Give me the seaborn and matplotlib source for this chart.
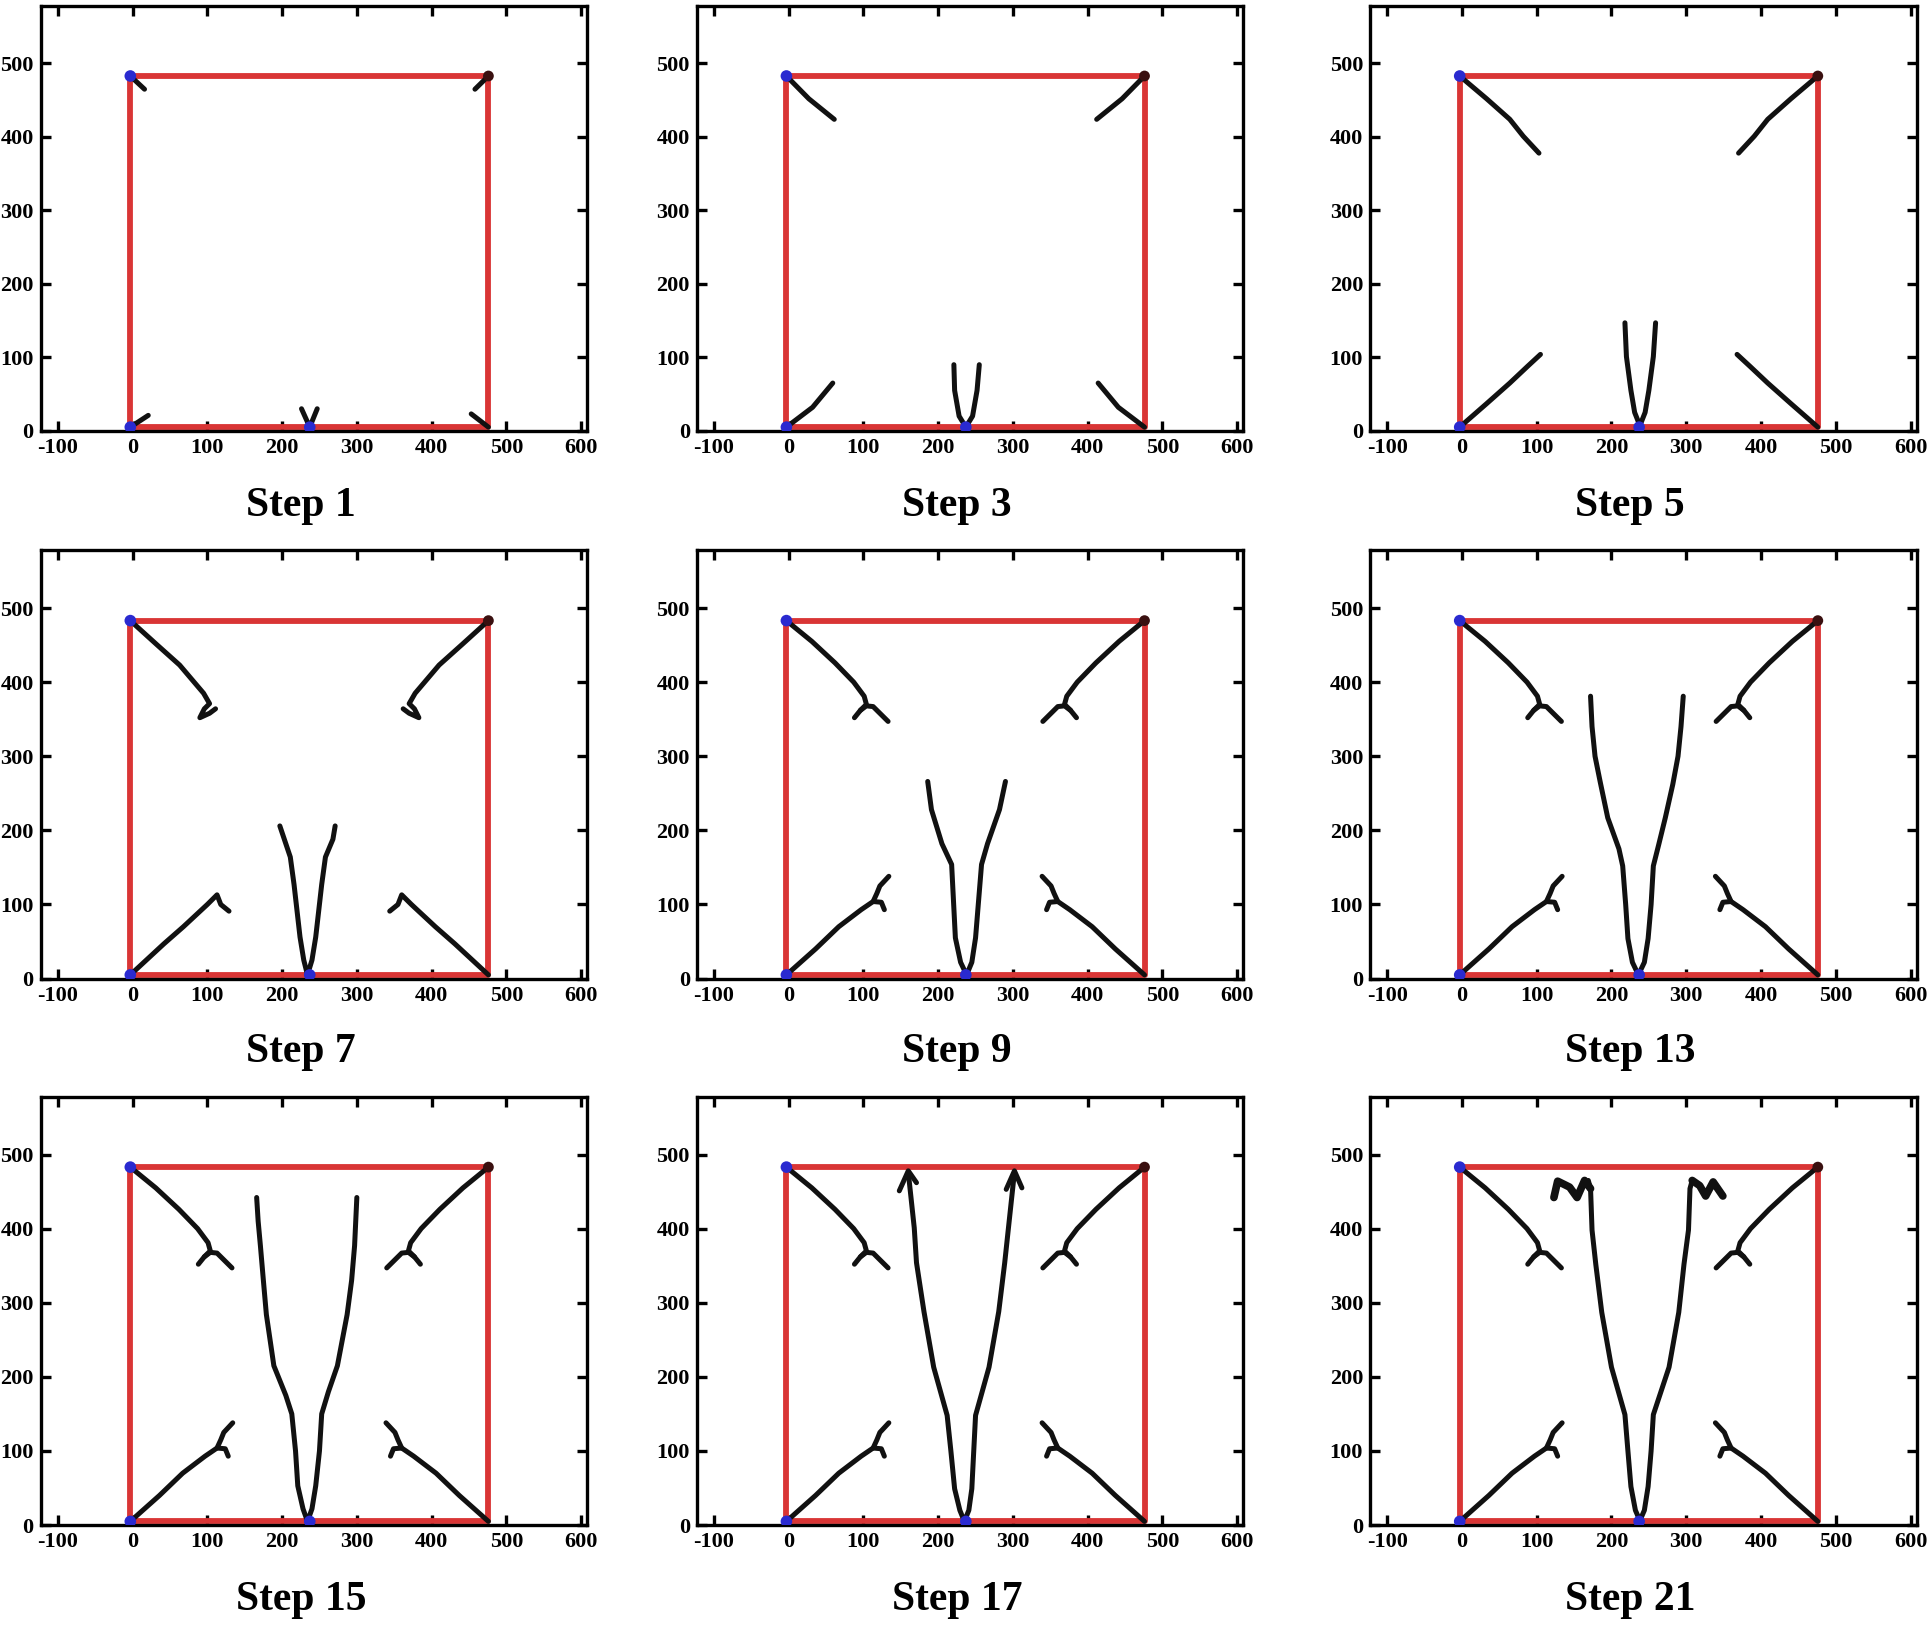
import matplotlib
matplotlib.use("Agg")
import matplotlib.pyplot as plt
import seaborn as sns

# ---------------- data ----------------
STEPS = ["Step 1", "Step 3", "Step 5", "Step 7", "Step 9",
         "Step 13", "Step 15", "Step 17", "Step 21"]
X_TICKS = [-100, 0, 100, 200, 300, 400, 500, 600]
Y_TICKS = [0, 100, 200, 300, 400, 500]

# specimen outline (red) and load/support points
BOX_X = [-3, 476, 476, -3, -3]
BOX_Y = [5, 5, 483, 483, 5]
BLUE_X = [-3, -3, 237]
BLUE_Y = [483, 5, 5]
TIP_X = [476]
TIP_Y = [483]

# arrested corner cracks (steps 9 - 21): main + hook branch for each corner
CORNERS_X = [
    [-3, 31, 62, 87, 101, 104, 96, 88],
    [96, 104, 113, 122, 133],
    [476, 442, 411, 386, 372, 369, 377, 385],
    [377, 369, 360, 351, 340],
    [-3, 36, 67, 97, 113, 118, 122, 134],
    [113, 124, 128],
    [476, 437, 406, 376, 360, 355, 351, 339],
    [360, 349, 345],
]
CORNERS_Y = [
    [483, 455, 426, 400, 381, 370, 362, 352],
    [362, 368, 367, 358, 347],
    [483, 455, 426, 400, 381, 370, 362, 352],
    [362, 368, 367, 358, 347],
    [5, 40, 70, 93, 104, 115, 125, 138],
    [104, 103, 93],
    [5, 40, 70, 93, 104, 115, 125, 138],
    [104, 103, 93],
]

# step 1
S1_X = [[-3, 16], [476, 458], [-3, 21], [476, 453], [226, 237, 247]]
S1_Y = [[483, 465], [483, 465], [5, 21], [5, 23], [30, 5, 30]]
# step 3
S3_X = [[-3, 27, 61], [476, 446, 412], [-3, 32, 59], [476, 441, 414],
        [221, 222, 228, 237, 246, 252, 255]]
S3_Y = [[483, 452, 424], [483, 452, 424], [5, 32, 65], [5, 32, 65],
        [90, 55, 20, 5, 20, 55, 90]]
# step 5
S5_X = [[-3, 33, 64, 82, 103], [476, 440, 409, 391, 370],
        [-3, 33, 64, 88, 105], [476, 440, 409, 385, 368],
        [218, 220, 226, 231, 238, 245, 250, 256, 259]]
S5_Y = [[483, 452, 424, 401, 378], [483, 452, 424, 401, 378],
        [5, 37, 65, 88, 104], [5, 37, 65, 88, 104],
        [147, 101, 55, 25, 7, 25, 55, 101, 147]]
# step 7
S7_X = [[-3, 32, 63, 95, 103, 96, 90, 103, 111],
        [476, 441, 410, 378, 370, 377, 383, 370, 362],
        [-3, 42, 68, 100, 113, 118, 129],
        [476, 431, 405, 373, 360, 355, 344],
        [197, 200, 211, 216, 224, 229, 234, 240, 245, 253, 258, 268, 271]]
S7_Y = [[483, 451, 423, 385, 371, 364, 352, 358, 364],
        [483, 451, 423, 385, 371, 364, 352, 358, 364],
        [5, 47, 70, 100, 113, 100, 91],
        [5, 47, 70, 100, 113, 100, 91],
        [206, 197, 164, 127, 56, 25, 5, 25, 56, 127, 164, 188, 206]]
# central crack, steps 9 - 21
S9_CX = [186, 191, 205, 218, 223, 230, 238, 245, 250, 258, 266, 282, 290]
S9_CY = [266, 228, 182, 154, 55, 22, 5, 22, 55, 154, 182, 228, 266]
S13_CX = [172, 174, 178, 185, 195, 210, 215, 219, 222, 228, 236,
          244, 249, 253, 256, 263, 272, 282, 289, 293, 296]
S13_CY = [381, 340, 300, 265, 217, 175, 152, 100, 54, 22, 5,
          22, 54, 100, 152, 180, 217, 262, 300, 340, 381]
S15_CX = [166, 168, 171, 175, 179, 189, 205, 213, 218, 221, 228, 234,
          240, 245, 250, 253, 262, 274, 287, 293, 297, 300]
S15_CY = [442, 410, 377, 330, 284, 215, 175, 150, 100, 53, 22, 5,
          22, 53, 100, 150, 180, 215, 284, 330, 377, 442]
S17_CX = [160, 163, 168, 171, 181, 194, 212, 217, 222, 229, 235, 241, 245, 250,
          268, 281, 289, 294, 299, 302]
S17_CY = [476, 448, 401, 354, 288, 213, 148, 100, 49, 20, 5, 20, 49, 148,
          213, 288, 354, 401, 448, 476]
S17_HEADS_X = [[148, 160, 171], [291, 302, 312]]
S17_HEADS_Y = [[451, 478, 462], [453, 478, 455]]
S21_CX = [169, 172, 174, 179, 187, 200, 218, 222, 226, 232, 238, 244, 249, 253,
          256, 277, 290, 297, 303, 305, 308]
S21_CY = [465, 454, 398, 352, 287, 213, 149, 100, 52, 20, 6, 20, 52, 100,
          149, 213, 287, 352, 398, 454, 465]
S21_BRANCH_X = [[123, 128, 144, 154, 164, 172], [308, 318, 326, 336, 349]]
S21_BRANCH_Y = [[442, 464, 456, 442, 465, 454], [465, 458, 444, 463, 444]]

PANEL_X = [S1_X, S3_X, S5_X, S7_X,
           CORNERS_X + [S9_CX], CORNERS_X + [S13_CX], CORNERS_X + [S15_CX],
           CORNERS_X + [S17_CX] + S17_HEADS_X, CORNERS_X + [S21_CX]]
PANEL_Y = [S1_Y, S3_Y, S5_Y, S7_Y,
           CORNERS_Y + [S9_CY], CORNERS_Y + [S13_CY], CORNERS_Y + [S15_CY],
           CORNERS_Y + [S17_CY] + S17_HEADS_Y, CORNERS_Y + [S21_CY]]

# ---------------- style ----------------
sns.set_style("ticks")
plt.rcParams["font.family"] = ["Liberation Serif", "DejaVu Serif"]
plt.rcParams["font.weight"] = "bold"
plt.rcParams["text.color"] = "black"

W, H = 1930, 1630
fig = plt.figure(figsize=(W / 100, H / 100), dpi=100)
fig.patch.set_facecolor("white")

col_left = [40.6, 696.7, 1370.0]
col_w = 546.5
row_top = [6.2, 550.2, 1096.7]
row_bot = [430.8, 978.6, 1525.1]
title_y = [506, 1052, 1600]

RED = "#d93535"
BLACK = "#111111"

for i, label in enumerate(STEPS):
    r, c = divmod(i, 3)
    ax = fig.add_axes([col_left[c] / W, 1 - row_bot[r] / H,
                       col_w / W, (row_bot[r] - row_top[r]) / H])
    ax.set_facecolor("white")
    sns.lineplot(x=BOX_X, y=BOX_Y, sort=False, estimator=None, color=RED,
                 lw=4.2, ax=ax, zorder=2)
    for xs, ys in zip(PANEL_X[i], PANEL_Y[i]):
        sns.lineplot(x=xs, y=ys, sort=False, estimator=None, color=BLACK,
                     lw=3.6, ax=ax, zorder=3, solid_capstyle="round",
                     solid_joinstyle="round")
    if i == 8:
        for xs, ys in zip(S21_BRANCH_X, S21_BRANCH_Y):
            sns.lineplot(x=xs, y=ys, sort=False, estimator=None, color=BLACK,
                         lw=5.5, ax=ax, zorder=3, solid_capstyle="round",
                         solid_joinstyle="round")
    sns.scatterplot(x=BLUE_X, y=BLUE_Y, color="#2a2ad0", s=70, ax=ax,
                    zorder=4, edgecolor="none")
    sns.scatterplot(x=TIP_X, y=TIP_Y, color="#3a1010", s=60, ax=ax,
                    zorder=4, edgecolor="none")

    ax.set_xlim(-123, 608)
    ax.set_ylim(0, 578)
    ax.set_xticks(X_TICKS)
    ax.set_yticks(Y_TICKS)
    ax.set_xticklabels([str(v) for v in X_TICKS], fontsize=16, fontweight="bold",
                       color="black")
    ax.set_yticklabels([str(v) for v in Y_TICKS], fontsize=16, fontweight="bold",
                       color="black")
    ax.tick_params(direction="in", length=7, width=2.4, top=True, right=True,
                   pad=5, colors="black")
    for sp in ax.spines.values():
        sp.set_visible(True)
        sp.set_linewidth(2.4)
        sp.set_color("black")
    ax.set_xlabel("")
    ax.set_ylabel("")
    cx = col_left[c] + col_w / 2 - 13
    fig.text(cx / W, 1 - title_y[r] / H, label, ha="center", va="center",
             fontsize=30, fontweight="bold", color="black")

fig.savefig("out.png", dpi=100, facecolor="white")
